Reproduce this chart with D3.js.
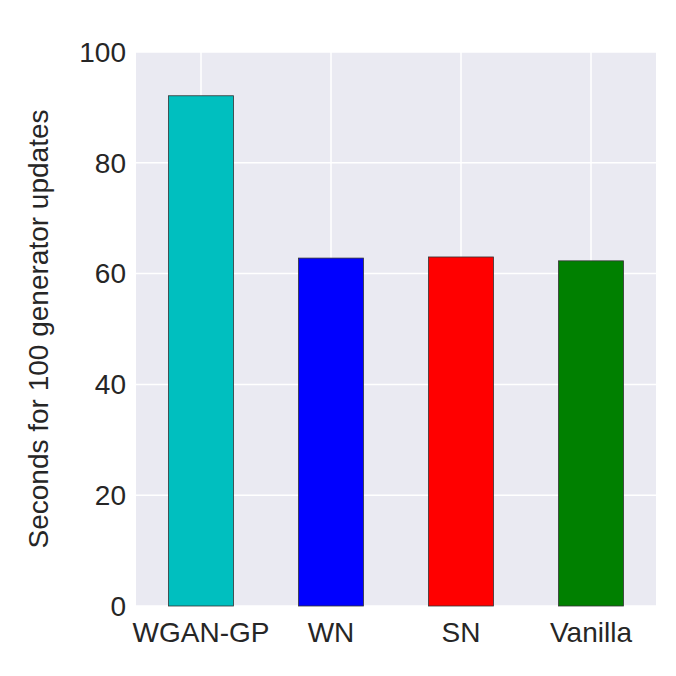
<!DOCTYPE html>
<html><head><meta charset="utf-8">
<script src="https://d3js.org/d3.v7.min.js"></script>
<style>body{margin:0;background:#fff}text{font-family:"Liberation Sans",Arial,sans-serif;fill:#262626}</style>
</head><body><svg id="c" width="676" height="676"></svg>
<script>
const categories=["WGAN-GP","WN","SN","Vanilla"];
const values=[92.1,62.8,63.0,62.3];
const colors=["#00BFBF","#0000FF","#FF0000","#008000"];
const yTicks=[0,20,40,60,80,100];
const m={l:136,r:656,t:52,b:606};
const svg=d3.select("#c");
const x=d3.scaleBand().domain(categories).range([m.l,m.r]).paddingInner(0).paddingOuter(0);
const y=d3.scaleLinear().domain([0,100]).range([m.b,m.t]);
svg.append("rect").attr("x",m.l).attr("y",m.t).attr("width",m.r-m.l).attr("height",m.b-m.t).attr("fill","#EAEAF2");
svg.selectAll(".gy").data(yTicks).enter().append("line").attr("x1",m.l).attr("x2",m.r).attr("y1",d=>y(d)).attr("y2",d=>y(d)).attr("stroke","#fff").attr("stroke-width",1.5);
svg.selectAll(".gx").data(categories).enter().append("line").attr("x1",d=>x(d)+x.bandwidth()/2).attr("x2",d=>x(d)+x.bandwidth()/2).attr("y1",m.t).attr("y2",m.b).attr("stroke","#fff").attr("stroke-width",1.5);
const bw=x.bandwidth()*0.5;
svg.selectAll(".bar").data(categories).enter().append("rect")
 .attr("x",d=>x(d)+x.bandwidth()/2-bw/2).attr("width",bw)
 .attr("y",(d,i)=>y(values[i])).attr("height",(d,i)=>y(0)-y(values[i]))
 .attr("fill",(d,i)=>colors[i]).attr("stroke","#333").attr("stroke-width",0.8);
svg.selectAll(".yt").data(yTicks).enter().append("text").attr("x",m.l-10).attr("y",d=>y(d)).attr("dy","0.35em").attr("text-anchor","end").attr("font-size",28).text(d=>d);
svg.selectAll(".xt").data(categories).enter().append("text").attr("x",d=>x(d)+x.bandwidth()/2).attr("y",m.b+36).attr("text-anchor","middle").attr("font-size",28).text(d=>d);
svg.append("text").attr("transform",`translate(48,${(m.t+m.b)/2}) rotate(-90)`).attr("text-anchor","middle").attr("font-size",28).text("Seconds for 100 generator updates");
</script></body></html>
